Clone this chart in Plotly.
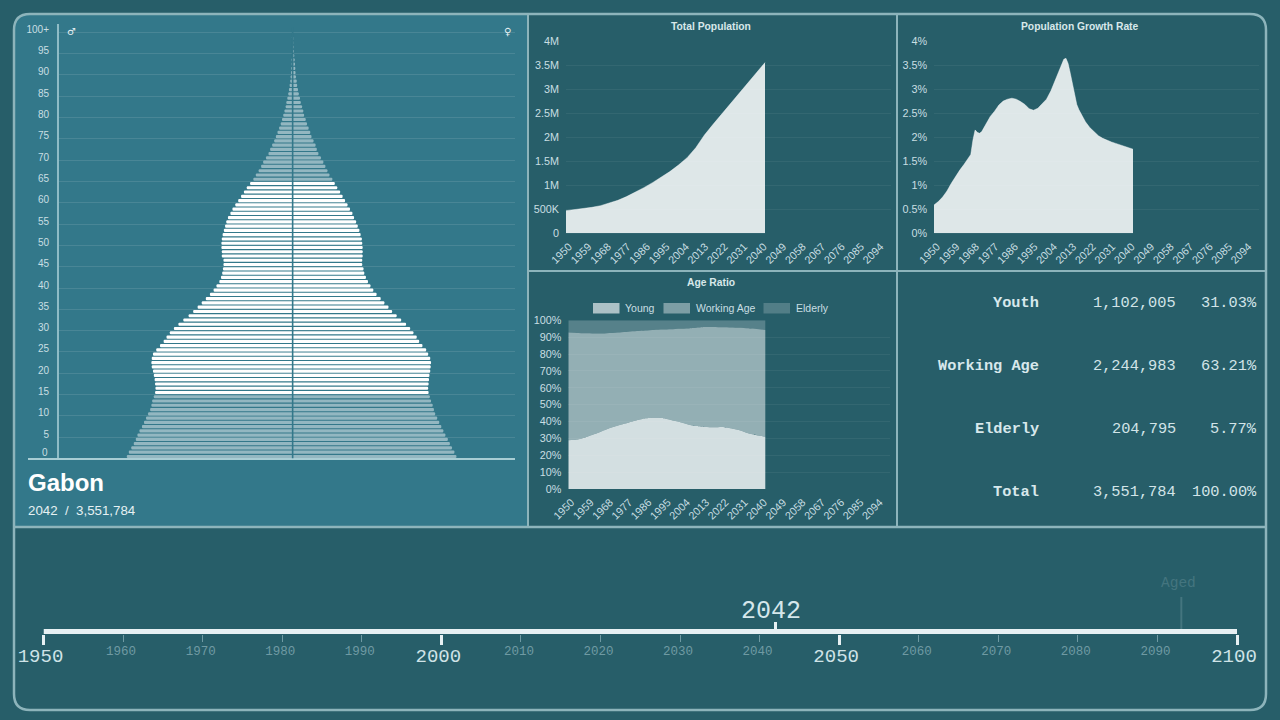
import plotly.graph_objects as go

COUNTRY = "Gabon"
CURRENT_YEAR = 2042
POPULATION = "3,551,784"

# population pyramid, thousands of people per single year of age (0 .. 100+)
AGES = list(range(101))
MALE = [
    40.5, 40.0, 39.4, 38.8, 38.3, 37.9, 37.4, 36.8, 36.3, 35.8,
    35.3, 34.8, 34.5, 34.3, 33.9, 33.6, 33.5, 33.6, 33.7, 33.9,
    34.1, 34.4, 34.5, 34.4, 34.1, 33.3, 32.4, 31.5, 30.8, 30.0,
    29.0, 27.9, 26.7, 25.4, 24.3, 23.2, 22.2, 21.2, 20.2, 19.3,
    18.6, 17.9, 17.5, 17.2, 17.0, 16.9, 16.9, 17.3, 17.3, 17.4,
    17.4, 17.3, 17.1, 16.8, 16.5, 16.2, 15.8, 15.2, 14.7, 14.0,
    13.3, 12.6, 11.9, 11.2, 10.4, 9.6, 9.0, 8.3, 7.7, 7.2,
    6.5, 5.9, 5.5, 5.0, 4.5, 4.1, 3.7, 3.3, 2.9, 2.6,
    2.3, 2.0, 1.7, 1.55, 1.3, 1.06, 0.9, 0.73, 0.57, 0.49,
    0.41, 0.33, 0.24, 0.24, 0.16, 0.16, 0.1, 0.08, 0.06, 0.04,
    0.03,
]
FEMALE = [
    40.0, 39.5, 38.9, 38.4, 37.9, 37.3, 36.8, 36.3, 35.8, 35.3,
    34.8, 34.5, 34.2, 33.8, 33.5, 33.2, 33.1, 33.2, 33.3, 33.4,
    33.6, 33.7, 33.8, 33.6, 33.1, 32.6, 31.7, 30.9, 30.3, 29.5,
    28.7, 27.7, 26.5, 25.4, 24.3, 23.4, 22.4, 21.5, 20.5, 19.7,
    19.0, 18.4, 17.9, 17.5, 17.3, 17.0, 17.0, 17.1, 17.1, 17.1,
    17.0, 16.9, 16.6, 16.3, 15.9, 15.5, 15.0, 14.6, 14.0, 13.4,
    12.8, 12.2, 11.6, 10.9, 10.3, 9.7, 9.0, 8.5, 8.0, 7.5,
    6.9, 6.3, 5.9, 5.6, 5.1, 4.6, 4.3, 3.9, 3.5, 3.2,
    2.8, 2.6, 2.3, 2.0, 1.8, 1.5, 1.3, 1.1, 1.0, 0.8,
    0.7, 0.65, 0.57, 0.49, 0.4, 0.33, 0.25, 0.16, 0.16, 0.08,
    0.08,
]
AGE_TICKS = list(range(5, 101, 5))
AGE_LABELS = [str(a) for a in AGE_TICKS[:-1]] + ["100+"]

YEARS = list(range(1950, 2043, 4))
TOTAL_POP = [
    471000, 490000, 513000, 540000, 575000, 625000, 686000, 763000,
    853000, 950000, 1054000, 1165000, 1283000, 1420000, 1574000, 1780000,
    2045000, 2267000, 2482000, 2690000, 2900000, 3120000, 3340000, 3551784,
]
POP_TICKS = [0, 500000, 1000000, 1500000, 2000000, 2500000, 3000000, 3500000, 4000000]
POP_LABELS = ["0", "500K", "1M", "1.5M", "2M", "2.5M", "3M", "3.5M", "4M"]

GROWTH_YEARS = [
    1950, 1952, 1954, 1956, 1958, 1960, 1962, 1964, 1966, 1967, 1968, 1969,
    1970, 1971, 1972, 1974, 1976, 1978, 1980, 1982, 1984, 1986, 1988, 1990,
    1992, 1994, 1996, 1998, 2000, 2002, 2004, 2006, 2008, 2010, 2011, 2012,
    2013, 2014, 2015, 2016, 2017, 2018, 2020, 2022, 2024, 2026, 2028, 2030,
    2032, 2034, 2036, 2038, 2040, 2042,
]
GROWTH = [
    0.59, 0.66, 0.755, 0.88, 1.04, 1.19, 1.32, 1.44, 1.57, 1.64, 1.94, 2.15,
    2.10, 2.08, 2.11, 2.27, 2.43, 2.54, 2.67, 2.75, 2.79, 2.81, 2.79, 2.74,
    2.68, 2.59, 2.56, 2.60, 2.69, 2.79, 2.96, 3.19, 3.41, 3.62, 3.64, 3.53,
    3.33, 3.09, 2.84, 2.68, 2.57, 2.48, 2.32, 2.20, 2.11, 2.03, 1.975, 1.93,
    1.90, 1.87, 1.845, 1.81, 1.78, 1.75,
]
GROWTH_TICKS = [0, 0.5, 1, 1.5, 2, 2.5, 3, 3.5, 4]
GROWTH_LABELS = ["0%", "0.5%", "1%", "1.5%", "2%", "2.5%", "3%", "3.5%", "4%"]

YOUNG = [
    28.9, 29.3, 30.6, 32.4, 34.4, 36.4, 38.0, 39.3, 40.7, 41.9, 42.3, 42.1,
    40.9, 39.7, 38.3, 37.3, 36.8, 36.6, 36.8, 36.0, 34.8, 33.0, 31.8, 31.03,
]
WORKING = [
    63.8, 63.2, 61.7, 59.8, 57.8, 56.1, 54.8, 53.9, 52.9, 52.1, 52.0, 52.4,
    53.8, 55.3, 56.9, 58.3, 59.2, 59.5, 59.1, 59.8, 60.8, 62.3, 63.1, 63.20,
]
ELDERLY = [
    7.3, 7.5, 7.7, 7.8, 7.8, 7.5, 7.2, 6.8, 6.4, 6.0, 5.7, 5.5,
    5.3, 5.0, 4.8, 4.4, 4.0, 3.9, 4.1, 4.2, 4.4, 4.7, 5.1, 5.77,
]
RATIO_TICKS = list(range(0, 101, 10))
RATIO_LABELS = [str(v) + "%" for v in RATIO_TICKS]
YEAR_TICKS = list(range(1950, 2095, 9))

TABLE_LABELS = ["Youth", "Working Age", "Elderly", "Total"]
TABLE_COUNTS = ["1,102,005", "2,244,983", "204,795", "3,551,784"]
TABLE_SHARES = ["31.03%", "63.21%", "5.77%", "100.00%"]

DECADES = [1960, 1970, 1980, 1990, 2010, 2020, 2030, 2040, 2060, 2070, 2080, 2090]
HALF_CENTURIES = [1950, 2000, 2050, 2100]
MILESTONE_YEARS = [2093]
MILESTONE_LABELS = ["Aged"]

BG = "#275e69"
PANEL = "#33788a"
BORDER = "#8db4bb"
TEXT = "#c9dfe3"
GRID = "rgba(255,255,255,0.06)"
SANS = "Liberation Sans"
MONO = "Liberation Mono"


def px(x):
    return x / 1280


def py(y):
    return 1 - y / 720


def dom_x(a, b):
    return [px(a), px(b)]


def dom_y(top, bottom):
    return [py(bottom), py(top)]


def pline(x0, y0, x1, y1, color=BORDER, width=2):
    return dict(type="line", xref="paper", yref="paper", x0=px(x0), y0=py(y0),
                x1=px(x1), y1=py(y1), line=dict(color=color, width=width))


def note(text, x, y, size=12, color=TEXT, family=SANS, anchor="center", bold=False):
    if bold:
        text = "<b>" + text + "</b>"
    return dict(text=text, xref="paper", yref="paper", x=px(x), y=py(y), showarrow=False,
                xanchor=anchor, yanchor="middle", font=dict(size=size, color=color, family=family))


def pt(x, y):
    return str(px(x)) + " " + str(py(y))


rounded = ("M " + pt(30, 14) + " L " + pt(1250, 14) + " Q " + pt(1266, 14) + " " + pt(1266, 30)
           + " L " + pt(1266, 694) + " Q " + pt(1266, 710) + " " + pt(1250, 710)
           + " L " + pt(30, 710) + " Q " + pt(14, 710) + " " + pt(14, 694)
           + " L " + pt(14, 30) + " Q " + pt(14, 14) + " " + pt(30, 14) + " Z")
panel = ("M " + pt(30, 14) + " L " + pt(528, 14) + " L " + pt(528, 527) + " L " + pt(14, 527)
         + " L " + pt(14, 30) + " Q " + pt(14, 14) + " " + pt(30, 14) + " Z")

fig = go.Figure()

# pyramid: the working-age band is solid, young and elderly are faded
bar_colors = ["#ffffff" if 15 <= a < 65 else "rgba(255,255,255,0.47)" for a in AGES]
fig.add_trace(go.Bar(y=AGES, x=[-v for v in MALE], orientation="h", offset=0.13, width=0.74,
                     marker=dict(color=bar_colors, line=dict(width=0), cornerradius=1),
                     xaxis="x", yaxis="y", name="Male"))
fig.add_trace(go.Bar(y=AGES, x=FEMALE, orientation="h", offset=0.13, width=0.74,
                     marker=dict(color=bar_colors, line=dict(width=0), cornerradius=1),
                     xaxis="x", yaxis="y", name="Female"))

AREA = "rgba(255,255,255,0.85)"
fig.add_trace(go.Scatter(x=YEARS, y=TOTAL_POP, mode="lines", fill="tozeroy", fillcolor=AREA,
                         line=dict(color=AREA, width=0.5), xaxis="x2", yaxis="y2"))
fig.add_trace(go.Scatter(x=GROWTH_YEARS, y=GROWTH, mode="lines", fill="tozeroy", fillcolor=AREA,
                         line=dict(color=AREA, width=0.5), xaxis="x3", yaxis="y3"))

for name, vals, alpha in [("Young", YOUNG, 0.8), ("Working Age", WORKING, 0.5), ("Elderly", ELDERLY, 0.22)]:
    fig.add_trace(go.Scatter(x=YEARS, y=vals, mode="lines", stackgroup="ratio", name=name,
                             fillcolor="rgba(255,255,255,%s)" % alpha,
                             line=dict(width=0, shape="spline", smoothing=0.6),
                             xaxis="x4", yaxis="y4"))

# timeline rail on the half-century axis, decades sit on the overlaid one
fig.add_trace(go.Scatter(x=[HALF_CENTURIES[0], HALF_CENTURIES[-1]], y=[0.0735, 0.0735], mode="lines",
                         line=dict(color="#e6f0f3", width=5), cliponaxis=False,
                         xaxis="x5", yaxis="y5"))
fig.add_trace(go.Scatter(x=[CURRENT_YEAR] + MILESTONE_YEARS, y=[0, 0], mode="markers",
                         marker=dict(opacity=0), xaxis="x6", yaxis="y5"))

year_axis = dict(range=[1950, 2100], tickvals=YEAR_TICKS, tickangle=-45, showgrid=False, zeroline=False,
                 showline=False, ticks="", ticklabelstandoff=4, ticklabelshift=3,
                 tickfont=dict(size=10.8, color=TEXT, family=SANS))


def value_axis(top, bottom, vmax, ticks, labels):
    return dict(domain=dom_y(top, bottom), range=[0, vmax], tickvals=ticks, ticktext=labels,
                showgrid=True, gridcolor=GRID, gridwidth=1, zeroline=False, showline=False, ticks="",
                ticklabelstandoff=6, tickfont=dict(size=10.8, color=TEXT, family=SANS))


annotations = [
    note(COUNTRY, 25.5, 483, size=24, color="#ffffff", anchor="left", bold=True),
    note(str(CURRENT_YEAR) + "&nbsp;&nbsp;/&nbsp;&nbsp;" + POPULATION, 25.5, 510, size=13.3, color="#e6f1f3", anchor="left"),
    note("♂", 71, 32, size=10, color="#e6f1f3", family="DejaVu Sans"),
    note("♀", 507, 32, size=10, color="#e6f1f3", family="DejaVu Sans"),
    note("0", 49.5, 452, size=10, color=TEXT, anchor="right"),
    note("Total Population", 711, 27, size=10.3, color="#d8e8ea", bold=True),
    note("Population Growth Rate", 1079.5, 27, size=10.3, color="#d8e8ea", bold=True),
    note("Age Ratio", 711, 283, size=10.3, color="#d8e8ea", bold=True),
]

shapes = [
    dict(type="path", xref="paper", yref="paper", path=panel, fillcolor=PANEL, line=dict(width=0), layer="below"),
    pline(528, 14, 528, 527),
    pline(897, 14, 897, 527),
    pline(528, 271, 1266, 271),
    pline(14, 527, 1266, 527, width=2.5),
    dict(type="path", xref="paper", yref="paper", path=rounded, line=dict(color=BORDER, width=2.5), layer="above"),
    pline(58, 24, 58, 459, color="#8fbcc6", width=2),
    pline(28, 459, 515, 459, color="#a8cdd4", width=2),
    dict(type="line", xref="x", yref="y", x0=0, x1=0, y0=0, y1=101, layer="above",
         line=dict(color=PANEL, width=1.6)),
]
# legend of the stacked chart
for x0, label, alpha in [(593, "Young", 0.62), (663.5, "Working Age", 0.4), (763.5, "Elderly", 0.2)]:
    shapes.append(dict(type="rect", xref="paper", yref="paper", x0=px(x0), x1=px(x0 + 26.5), y0=py(303), y1=py(313.5),
                       fillcolor="rgba(255,255,255,%s)" % alpha, line=dict(width=0)))
    annotations.append(note(label, x0 + 30, 308, size=10.5, color=TEXT, anchor="left"))

for i, label in enumerate(TABLE_LABELS):
    y = [303, 365.7, 428.7, 491.5][i]
    annotations.append(note(label, 1041, y, size=15.3, color="#d7e8ec", family=MONO, anchor="right", bold=True))
    annotations.append(note(TABLE_COUNTS[i], 1177.5, y, size=15.3, color="#d2e4e8", family=MONO, anchor="right"))
    annotations.append(note(TABLE_SHARES[i], 1259, y, size=15.3, color="#d2e4e8", family=MONO, anchor="right"))

# current year and milestones on the timeline
shapes.append(dict(type="line", xref="x6", yref="paper", x0=CURRENT_YEAR, x1=CURRENT_YEAR, y0=py(622), y1=py(631),
                   line=dict(color="#e6f0f3", width=3)))
annotations.append(dict(text=str(CURRENT_YEAR), xref="x6", yref="paper", x=CURRENT_YEAR - 0.6, y=py(611), showarrow=False,
                        xanchor="center", yanchor="middle", font=dict(size=25, color="#d5e7eb", family=MONO)))
for year, label in zip(MILESTONE_YEARS, MILESTONE_LABELS):
    shapes.append(dict(type="line", xref="x6", yref="paper", x0=year, x1=year, y0=py(597), y1=py(629),
                       line=dict(color="#44757f", width=2)))
    annotations.append(dict(text=label, xref="x6", yref="paper", x=year - 0.4, y=py(583), showarrow=False,
                            xanchor="center", yanchor="middle", font=dict(size=14.5, color="#44757f", family=MONO)))

fig.update_layout(
    width=1280,
    height=720,
    autosize=False,
    margin=dict(l=0, r=0, t=0, b=0, pad=0, autoexpand=False),
    paper_bgcolor=BG,
    plot_bgcolor="rgba(0,0,0,0)",
    showlegend=False,
    barmode="overlay",
    hovermode=False,
    shapes=shapes,
    annotations=annotations,
    xaxis=dict(domain=dom_x(58, 515), range=[-57.3, 54.3], visible=False),
    yaxis=dict(domain=dom_y(24, 458.6), range=[0, 101.9], tickvals=AGE_TICKS, ticktext=AGE_LABELS,
               showgrid=True, gridcolor="rgba(255,255,255,0.11)", zeroline=False, showline=False, ticks="",
               ticklabelstandoff=8, ticklabelshift=-3, tickfont=dict(size=10, color=TEXT, family=SANS)),
    xaxis2=dict(domain=dom_x(566, 890.5), anchor="y2", **year_axis),
    yaxis2=dict(anchor="x2", **value_axis(41, 233.3, 4000000, POP_TICKS, POP_LABELS)),
    xaxis3=dict(domain=dom_x(934, 1258.5), anchor="y3", **year_axis),
    yaxis3=dict(anchor="x3", **value_axis(41, 233.3, 4, GROWTH_TICKS, GROWTH_LABELS)),
    xaxis4=dict(domain=dom_x(568.3, 889.5), anchor="y4", **year_axis),
    yaxis4=dict(anchor="x4", **value_axis(320.3, 489, 100, RATIO_TICKS, RATIO_LABELS)),
    xaxis5=dict(domain=dom_x(43.5, 1237), range=[1950, 2100], anchor="y5", tickvals=HALF_CENTURIES,
                ticks="outside", ticklen=10, tickwidth=3, tickcolor="#e6f0f3", showgrid=False, zeroline=False,
                showline=False, ticklabelshift=-3, ticklabelstandoff=-6, tickfont=dict(size=19, color="#cfe3e7", family=MONO)),
    yaxis5=dict(domain=dom_y(600, 634), range=[0, 1], visible=False, anchor="x5"),
    xaxis6=dict(domain=dom_x(43.5, 1237), range=[1950, 2100], anchor="y5", overlaying="x5", tickvals=DECADES,
                ticks="outside", ticklen=7, tickwidth=1, tickcolor="#6f9aa3", showgrid=False, zeroline=False,
                showline=False, ticklabelshift=-2, ticklabelstandoff=-2, tickfont=dict(size=12.5, color="#6f9aa3", family=MONO)),
)

fig.write_html("out.html", config=dict(displayModeBar=False),
               post_script="document.body.style.margin='0';document.body.style.overflow='hidden';document.body.style.background='" + BG + "';")
